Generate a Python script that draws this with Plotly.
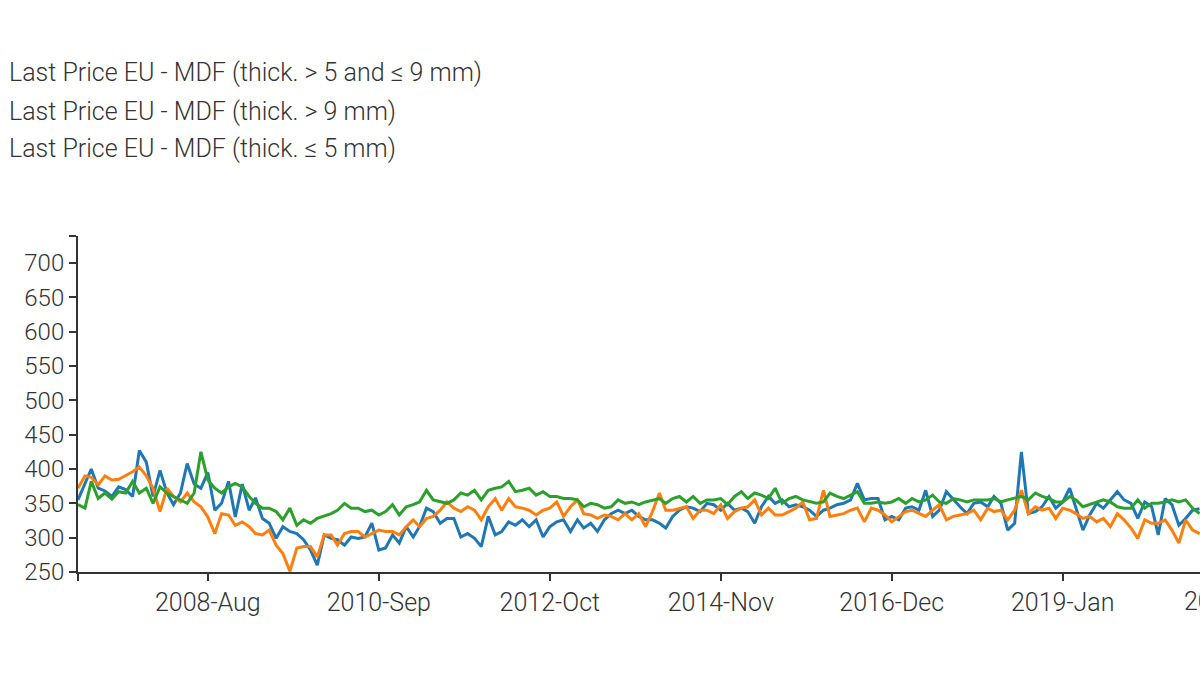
import pandas as pd
import plotly.graph_objects as go

start_month = "2007-01-01"

series_names = [
    "Last Price EU - MDF (thick. > 5 and ≤ 9 mm)",
    "Last Price EU - MDF (thick. > 9 mm)",
    "Last Price EU - MDF (thick. ≤ 5 mm)",
]

price_mid = [
    355, 378, 400, 372, 368, 360, 374, 370, 360, 427,
    410, 360, 398, 365, 348, 365, 408, 378, 372, 395,
    340, 350, 382, 330, 378, 340, 358, 328, 321, 299,
    316, 309, 306, 297, 282, 260, 304, 299, 297, 289,
    301, 299, 301, 321, 282, 285, 304, 292, 316, 301,
    316, 343, 338, 321, 328, 328, 301, 306, 299, 287,
    331, 304, 309, 323, 318, 326, 316, 326, 301, 316,
    323, 326, 309, 326, 314, 321, 309, 326, 335, 340,
    335, 340, 331, 326, 326, 321, 314, 331, 340, 345,
    343, 338, 350, 348, 340, 350, 340, 343, 338, 321,
    345, 360, 350, 355, 345, 348, 345, 340, 331, 340,
    343, 348, 350, 355, 379, 355, 357, 357, 326, 331,
    326, 343, 345, 340, 369, 331, 340, 367, 355, 345,
    335, 350, 352, 345, 360, 350, 311, 321, 425, 335,
    338, 345, 360, 343, 352, 372, 343, 311, 333, 350,
    343, 355, 367, 355, 350, 328, 352, 345, 304, 357,
    348, 318, 328, 340, 342,
]

price_thick = [
    372, 390, 388, 377, 390, 384, 385, 390, 396, 403,
    390, 372, 338, 372, 360, 352, 365, 352, 345, 330,
    306, 335, 333, 318, 323, 316, 306, 304, 311, 289,
    277, 251, 285, 287, 287, 272, 304, 304, 289, 306,
    309, 309, 301, 306, 311, 309, 309, 304, 316, 326,
    316, 328, 331, 340, 352, 343, 338, 345, 340, 326,
    345, 357, 340, 357, 345, 343, 340, 333, 340, 343,
    352, 331, 345, 355, 335, 333, 328, 333, 331, 326,
    335, 326, 335, 316, 338, 365, 340, 340, 343, 345,
    328, 340, 340, 335, 348, 328, 338, 343, 345, 355,
    333, 343, 333, 333, 338, 343, 352, 326, 328, 369,
    331, 333, 335, 340, 343, 323, 343, 340, 333, 323,
    331, 338, 340, 335, 331, 340, 348, 326, 331, 333,
    335, 340, 326, 343, 338, 340, 326, 340, 369, 335,
    345, 340, 343, 328, 343, 340, 335, 328, 331, 323,
    328, 316, 335, 326, 314, 299, 326, 321, 321, 326,
    311, 292, 326, 311, 306,
]

price_thin = [
    348, 343, 382, 357, 365, 356, 367, 365, 382, 365,
    372, 350, 374, 365, 360, 355, 350, 365, 425, 384,
    372, 365, 374, 379, 374, 360, 350, 343, 343, 338,
    326, 343, 318, 326, 321, 328, 331, 335, 340, 350,
    343, 343, 338, 340, 333, 338, 348, 333, 345, 348,
    352, 369, 355, 352, 350, 355, 365, 362, 369, 355,
    369, 372, 374, 382, 367, 369, 372, 362, 367, 360,
    360, 357, 357, 355, 345, 350, 348, 343, 345, 355,
    350, 352, 348, 352, 355, 357, 350, 357, 360, 352,
    360, 350, 355, 355, 357, 348, 360, 367, 357, 365,
    362, 357, 372, 350, 357, 360, 355, 352, 350, 352,
    365, 360, 357, 362, 367, 350, 350, 352, 350, 352,
    357, 350, 357, 352, 355, 362, 352, 350, 357, 355,
    352, 355, 355, 355, 357, 352, 355, 357, 360, 355,
    365, 360, 357, 352, 352, 360, 355, 345, 348, 352,
    355, 352, 345, 343, 343, 355, 343, 350, 350, 352,
    355, 352, 355, 343, 335,
]

x_tick_dates = ["2007-01-01", "2008-08-01", "2010-09-01", "2012-10-01",
                "2014-11-01", "2016-12-01", "2019-01-01"]
x_tick_text = ["", "2008-Aug", "2010-Sep", "2012-Oct", "2014-Nov", "2016-Dec", "2019-Jan"]
next_tick_text = "2021-Feb"

y_tick_vals = [250, 300, 350, 400, 450, 500, 550, 600, 650, 700, 739]
y_tick_text = ["250", "300", "350", "400", "450", "500", "550", "600", "650", "700", ""]

colors = ["#1f77b4", "#ff7f0e", "#2ca02c"]

fig = go.Figure()
for name, vals, col in zip(series_names, [price_mid, price_thick, price_thin], colors):
    dates = pd.date_range(start_month, periods=len(vals), freq="MS")
    fig.add_trace(go.Scatter(x=dates, y=vals, mode="lines", name=name,
                             line=dict(color=col, width=3), showlegend=False))

W, H = 1200, 675
L, R, T, B = 78, 0, 236, 103
plot_w = W - L - R
plot_h = H - T - B

for i, name in enumerate(series_names):
    py = [73, 111, 148][i]
    fig.add_annotation(text=name, xref="paper", yref="paper",
                       x=(7 - L) / plot_w, y=(H - B - py) / plot_h,
                       xanchor="left", yanchor="middle", showarrow=False,
                       font=dict(family="Roboto", size=25, color="#333333", weight=300))

# next (partly hidden) x tick label beyond the right edge of the page
fig.add_annotation(text=next_tick_text, xref="paper", yref="paper",
                   x=(1235 - L) / plot_w, y=-(601 - (H - B)) / plot_h,
                   xanchor="center", yanchor="middle", showarrow=False,
                   font=dict(family="Roboto", size=25, color="#333333", weight=300))

fig.update_layout(
    width=W, height=H, autosize=False,
    margin=dict(l=L, r=R, t=T, b=B, pad=0),
    paper_bgcolor="white", plot_bgcolor="white",
    font=dict(family="Roboto", color="#333333"),
)
fig.update_xaxes(
    type="date", range=["2007-01-01", "2020-09-03"],
    tickvals=x_tick_dates, ticktext=x_tick_text,
    ticks="outside", ticklen=7, tickwidth=2, tickcolor="#333333",
    showline=True, linecolor="#333333", linewidth=2,
    showgrid=False, zeroline=False,
    tickfont=dict(family="Roboto", size=25, color="#333333", weight=300),
)
fig.update_yaxes(
    range=[250, 739.3],
    tickvals=y_tick_vals, ticktext=y_tick_text,
    ticks="outside", ticklen=7, tickwidth=2, tickcolor="#333333",
    showline=True, linecolor="#333333", linewidth=2,
    showgrid=False, zeroline=False,
    tickfont=dict(family="Roboto", size=24, color="#333333", weight=300),
)

fig.write_html("out.html")
